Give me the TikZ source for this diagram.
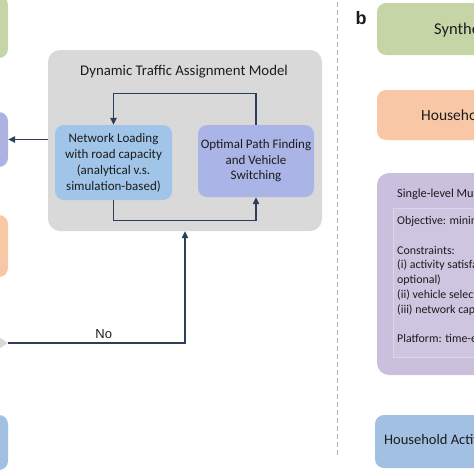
\documentclass[tikz,border=0pt]{standalone}
\usepackage{fontspec}
\setmainfont{Carlito}
\newfontfamily\labelfont{Liberation Sans}
\usetikzlibrary{arrows.meta}
\usetikzlibrary{shapes.geometric}
\usetikzlibrary{positioning}
\definecolor{grnbox}{RGB}{197,213,166}
\definecolor{orgbox}{RGB}{248,199,165}
\definecolor{lavbox}{RGB}{202,192,222}
\definecolor{lavline}{RGB}{220,214,234}
\definecolor{bluebox}{RGB}{162,192,226}
\definecolor{perbox}{RGB}{172,178,226}
\definecolor{loadbox}{RGB}{160,197,232}
\definecolor{pathbox}{RGB}{170,180,230}
\definecolor{dtabox}{RGB}{217,217,217}
\definecolor{flowcol}{RGB}{45,63,88}
\definecolor{txtcol}{RGB}{28,28,28}
\tikzset{box/.style = {rectangle, rounded corners = 9pt, inner sep = 0, draw = none}}
\tikzset{flow/.style = {draw = flowcol, line width = 1.1pt, -{Triangle[length = 7pt, width = 6.5pt]}}}
\tikzset{txt/.style = {text = txtcol, inner sep = 0}}

\begin{document}
\begin{tikzpicture}[x = 1pt, y = -1pt]
      \useasboundingbox (0, 0) rectangle (474, 474);
      \clip (0, 0) rectangle (474, 474);

      % left column, cut off at the page edge
      \node [box, fill = grnbox, minimum width = 70, minimum height = 62] (lgreen) at (-27, 27) {};
      \node [box, fill = perbox, minimum width = 70, minimum height = 55] (lpurple) at (-27, 139.5) {};
      \node [box, fill = orgbox, minimum width = 70, minimum height = 62] (lorange) at (-27, 246) {};
      \node [diamond, fill = black!15, minimum width = 76, minimum height = 50, inner sep = 0] (decide) at (-30, 343) {};
      \node [box, fill = bluebox, minimum width = 70, minimum height = 55] (lblue) at (-27, 442.5) {};

      % dynamic traffic assignment
      \node [box, fill = dtabox, rounded corners = 12pt, minimum width = 274, minimum height = 181] (dta) at (185, 140.5) {};
      \node [txt, font = \fontsize{14.8}{17}\selectfont] (dtatitle) at (184, 72) {Dynamic Traffic Assignment Model};
      \node [box, fill = loadbox, minimum width = 117, minimum height = 75, align = center, text = txtcol,
             font = \fontsize{13}{16}\selectfont] (load) at (113.5, 162.5)
            {Network Loading\\with road capacity\\(analytical v.s.\\simulation-based)};
      \node [box, fill = pathbox, minimum width = 116, minimum height = 72, align = center, text = txtcol,
             font = \fontsize{13}{15.5}\selectfont] (path) at (256, 161)
            {Optimal Path Finding\\and Vehicle\\Switching};

      \draw [flow] (path.north) -- ++(0, -31) -| (load.north);
      \draw [flow] (load.south) -- ++(0, 20) -| (path.south);
      \draw [flow] (dta.west |- lpurple.east) -- (lpurple.east);
      \draw [flow] (decide.east) -| node [pos = 0.27, above = 4pt, txt, font = \labelfont\fontsize{13}{15}\selectfont] (nolabel) {No} (dta.south);

      % separator
      \draw [black!30, line width = 0.8pt, dash pattern = on 5pt off 3pt] (337, 2) -- (337, 457);

      % panel b
      \node [txt, font = \labelfont\bfseries\fontsize{18}{20}\selectfont] (panelb) at (361, 18) {b};
      \node [box, fill = grnbox, minimum width = 220, minimum height = 52] (synth) at (487, 29) {};
      \node [txt, anchor = west, font = \fontsize{16.5}{19}\selectfont] (synthtxt) at (434, 30) {Synthetic Population};
      \node [box, fill = orgbox, minimum width = 220, minimum height = 50] (house) at (487, 115) {};
      \node [txt, anchor = west, font = \fontsize{15.5}{18}\selectfont] (housetxt) at (421, 115) {Household Members};
      \node [box, fill = lavbox, rounded corners = 12pt, minimum width = 220, minimum height = 202] (opt) at (487, 274) {};
      \node [txt, anchor = west, font = \fontsize{12.3}{14}\selectfont] (opttitle) at (397, 194) {Single-level Multi-commodity Model};
      \node [draw = lavline, line width = 0.8pt, fill = lavbox!92!white, minimum width = 200, minimum height = 149, inner sep = 0] (optinner) at (493, 282.5) {};
      \node [txt, anchor = north west, align = left, font = \fontsize{11.9}{14.8}\selectfont] (optbody) at (397, 216)
            {Objective: minimize total cost\\
             \mbox{}\\
             Constraints:\\
             (i) activity satisfaction (mandatory or\\
             optional)\\
             (ii) vehicle selection\\
             (iii) network capacity\\
             \mbox{}\\
             Platform: time-expanded network};
      \node [box, fill = bluebox, minimum width = 220, minimum height = 53] (plan) at (485, 441.5) {};
      \node [txt, anchor = west, font = \fontsize{14.5}{17}\selectfont] (plantxt) at (384, 441) {Household Activity Plans};
    \end{tikzpicture}
\end{document}
